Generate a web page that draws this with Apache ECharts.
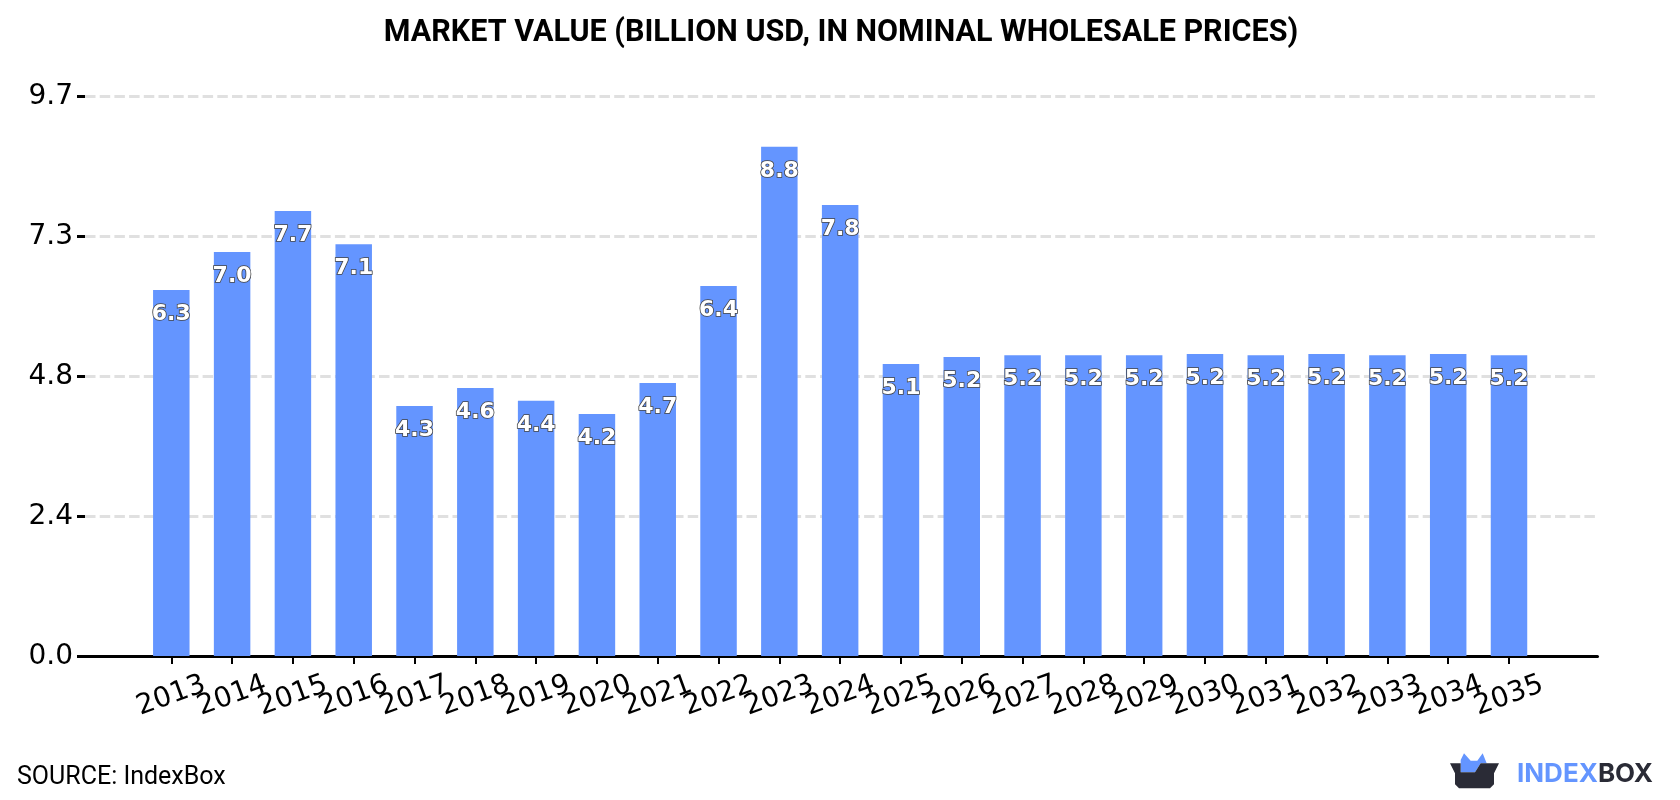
<!DOCTYPE html>
<html>
<head>
<meta charset="utf-8">
<title>Market value</title>
<script src="https://cdn.jsdelivr.net/npm/echarts@6/dist/echarts.min.js"></script>
<style>
  html, body { margin: 0; padding: 0; background: #fff; }
  #chart { width: 1680px; height: 800px; }
</style>
</head>
<body>
<div id="chart"></div>
<script>
// Market value per year, billion USD
const years = ['2013', '2014', '2015', '2016', '2017', '2018', '2019', '2020', '2021', '2022', '2023', '2024',
               '2025', '2026', '2027', '2028', '2029', '2030', '2031', '2032', '2033', '2034', '2035'];
const marketValue = [6.34, 7.0, 7.71, 7.13, 4.33, 4.64, 4.42, 4.19, 4.73, 6.41, 8.82, 7.81,
                     5.06, 5.18, 5.21, 5.21, 5.21, 5.23, 5.21, 5.23, 5.21, 5.23, 5.21];
const yMax = 9.7;
const yStep = 2.425;

const BAR_BLUE = '#6495ff';
const LOGO_DARK = '#2a2b36';

// Logo outlines in local units, placed by the graphic group below
const logoBox = [[30,55],[62,55],[62,82],[105,82],[122,55],[177,55],[162,85],[162,118],[150,130],
                 [57,130],[45,118],[45,85]];
const logoFlap = [[62,82],[62,45],[72,25],[92,47],[112,47],[128,25],[140,55],[122,55],[105,82]];
const logoScale = 1 / 3;

const chart = echarts.init(document.getElementById('chart'));
chart.setOption({
  animation: false,
  backgroundColor: '#ffffff',
  title: {
    text: 'MARKET VALUE (BILLION USD, IN NOMINAL WHOLESALE PRICES)',
    left: 836,
    top: 13,
    textAlign: 'center',
    textStyle: { fontFamily: 'Roboto', fontWeight: 'bold', fontSize: 30.5, color: '#000' }
  },
  // Outer grid carries the gridlines and baseline; the inner one holds the bars,
  // inset so the baseline runs past the first and last bar.
  grid: [
    { left: 85, right: 82.5, top: 96.5, bottom: 143.5 },
    { left: 140.9, right: 140.6, top: 96, bottom: 144 }
  ],
  xAxis: [
    {
      gridIndex: 0,
      type: 'value',
      min: 0,
      max: 1,
      splitLine: { show: false },
      axisLine: { show: true, lineStyle: { color: '#000', width: 3 } },
      axisTick: { show: false },
      axisLabel: { show: false }
    },
    {
      gridIndex: 1,
      type: 'category',
      data: years,
      axisLine: { show: false },
      axisTick: { show: true, alignWithLabel: true, length: 8, lineStyle: { color: '#000', width: 2 } },
      axisLabel: {
        interval: 0,
        rotate: 20,
        margin: 40,
        align: 'center',
        verticalAlign: 'middle',
        hideOverlap: false,
        fontFamily: 'DejaVu Sans',
        fontSize: 28,
        color: '#000'
      }
    }
  ],
  yAxis: [
    {
      gridIndex: 0,
      type: 'value',
      min: 0,
      max: yMax,
      interval: yStep,
      axisLine: { show: false },
      axisTick: { show: true, length: 8, lineStyle: { color: '#000', width: 3 } },
      axisLabel: {
        margin: 12,
        padding: [4, 0, 0, 0],
        formatter: v => v.toFixed(1),
        fontFamily: 'DejaVu Sans',
        fontSize: 28,
        color: '#000'
      },
      splitLine: {
        show: true,
        lineStyle: { color: '#e0e0e0', width: 3, type: [10.5, 4.2] }
      }
    },
    {
      gridIndex: 1,
      type: 'value',
      min: 0,
      max: yMax,
      interval: yStep,
      show: false
    }
  ],
  series: [{
    type: 'bar',
    xAxisIndex: 1,
    yAxisIndex: 1,
    data: marketValue,
    barWidth: '60%',
    itemStyle: { color: BAR_BLUE },
    label: {
      show: true,
      position: 'insideTop',
      distance: 13,
      formatter: p => p.value.toFixed(1),
      fontFamily: 'DejaVu Sans',
      fontWeight: 'bold',
      fontSize: 22,
      color: '#ffffff',
      textBorderColor: '#444444',
      textBorderWidth: 1.6
    }
  }],
  graphic: [
    {
      type: 'text',
      left: 17,
      top: 765,
      style: { text: 'SOURCE: IndexBox', fontFamily: 'Roboto', fontSize: 25, fill: '#000' }
    },
    {
      type: 'group',
      x: 1440,
      y: 745,
      scaleX: logoScale,
      scaleY: logoScale,
      children: [
        { type: 'polygon', shape: { points: logoFlap }, style: { fill: BAR_BLUE } },
        { type: 'polygon', shape: { points: logoBox }, style: { fill: LOGO_DARK } }
      ]
    },
    {
      type: 'text',
      left: 1517,
      top: 761,
      style: {
        text: '{a|INDEX}{b|BOX}',
        rich: {
          a: { fontFamily: 'Inter', fontWeight: 'bold', fontSize: 26, fill: BAR_BLUE, color: BAR_BLUE },
          b: { fontFamily: 'Inter', fontWeight: 'bold', fontSize: 26, fill: LOGO_DARK, color: LOGO_DARK }
        }
      }
    }
  ]
});
</script>
</body>
</html>
